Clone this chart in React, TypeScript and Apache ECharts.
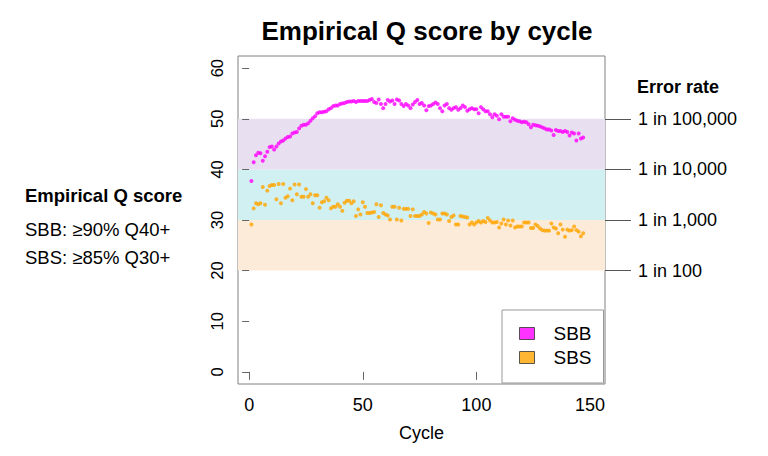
import React, { useEffect, useRef } from "react";
import * as echarts from "echarts";

const sbbValues = [
  37.7, 41.4, 42.8, 43.3, 43.2, 41.7, 42.6, 43.5, 44.4, 44.5,
  43.9, 44.5, 45.1, 45.5, 45.7, 46.1, 46.4, 46.5, 47.1, 47.3,
  47.4, 48.1, 48.6, 48.8, 48.8, 49.1, 49.6, 50.1, 50.5, 51.1,
  51.3, 51.3, 51.4, 51.5, 51.9, 52.1, 52.5, 52.6, 52.6, 52.9,
  53.0, 53.1, 53.3, 53.4, 53.4, 53.5, 53.3, 53.5, 53.5, 53.5,
  53.5, 53.5, 53.7, 53.9, 53.3, 53.1, 53.8, 52.9, 52.1, 52.9,
  53.7, 53.4, 53.6, 52.9, 53.8, 53.6, 52.9, 52.5, 52.9, 52.6,
  52.1, 52.8, 53.3, 53.7, 52.9, 53.1, 52.6, 51.7, 52.5, 52.6,
  52.9, 53.2, 52.9, 52.1, 51.5, 52.6, 52.9, 52.1, 51.8, 52.1,
  52.3, 51.8, 52.1, 52.6, 52.3, 51.6, 51.9, 52.1, 51.9, 51.9,
  51.1, 52.3, 51.9, 51.5, 51.5, 50.9, 50.3, 50.9, 50.6, 49.9,
  50.9, 50.4, 50.4, 50.4, 49.5, 50.1, 49.8, 49.6, 49.5, 49.3,
  49.4, 49.3, 48.9, 48.3, 48.8, 48.7, 48.6, 48.5, 48.3, 48.1,
  47.9, 47.9, 47.7, 46.8, 47.8, 47.6, 47.6, 47.4, 47.6, 47.4,
  46.7, 47.3, 47.1, 45.7, 47.1, 46.1, 46.3,
];

const sbsValues = [
  29.1, 32.3, 33.3, 33.1, 33.3, 36.5, 33.0, 35.8, 36.7, 36.9,
  36.9, 34.1, 37.1, 33.3, 37.1, 34.4, 34.7, 36.2, 33.9, 37.0,
  35.1, 37.0, 34.6, 34.6, 36.1, 34.6, 35.1, 33.3, 34.9, 34.9,
  32.4, 33.5, 33.7, 34.4, 33.9, 32.3, 32.6, 32.6, 33.1, 32.6,
  31.8, 33.4, 33.8, 33.8, 33.3, 33.7, 30.8, 32.1, 31.1, 33.5,
  32.6, 31.4, 31.4, 31.5, 31.6, 33.1, 30.6, 32.9, 31.4, 31.1,
  30.9, 30.1, 32.6, 32.6, 30.1, 32.4, 29.9, 32.2, 32.2, 32.2,
  30.8, 32.1, 30.8, 30.8, 30.8, 31.1, 31.6, 31.3, 29.4, 31.5,
  31.3, 31.1, 30.1, 30.1, 31.3, 31.3, 31.1, 29.8, 30.6, 30.9,
  29.1, 29.1, 30.8, 30.7, 30.6, 30.5, 29.1, 29.5, 29.1, 29.5,
  29.8, 29.5, 29.8, 29.6, 30.4, 29.9, 29.5, 29.5, 29.6, 28.5,
  29.3, 30.1, 29.1, 29.9, 28.9, 29.9, 28.5, 28.7, 28.7, 28.7,
  29.5, 29.5, 29.5, 28.4, 28.4, 29.1, 28.8, 28.3, 28.0, 27.9,
  27.9, 27.9, 29.3, 28.5, 28.3, 27.4, 29.1, 28.1, 26.7, 28.1,
  27.9, 28.0, 28.7, 28.0, 27.7, 26.8, 27.4,
];

const xTicks = [0, 50, 100, 150];
const yTicks = [0, 10, 20, 30, 40, 50, 60];
const errorTicks = [20, 30, 40, 50];
const errorLabels = ["1 in 100", "1 in 1,000", "1 in 10,000", "1 in 100,000"];
const bands = [
  { from: 20, to: 30, color: "#FDEBDA" },
  { from: 30, to: 40, color: "#D0F0F2" },
  { from: 40, to: 50, color: "#E8E0F0" },
];
const annotationLines = ["SBB: \u226590% Q40+", "SBS: \u226585% Q30+"];

const FONT = "'Liberation Sans', Arial, Helvetica, sans-serif";

export default function App() {
  const ref = useRef<HTMLDivElement>(null);

  useEffect(() => {
    if (!ref.current) return;
    const chart = echarts.init(ref.current, undefined, { renderer: "svg" });
    const toPoints = (vals: number[]) => vals.map((v, i) => [i + 1, v]);

    chart.setOption({
      animation: false,
      backgroundColor: "#ffffff",
      textStyle: { fontFamily: FONT },
      title: {
        text: "Empirical Q score by cycle",
        left: 422,
        top: 13,
        textAlign: "center",
        textStyle: { fontSize: 26, fontWeight: "bold", color: "#000", fontFamily: FONT },
      },
      grid: {
        left: 238,
        right: 163,
        top: 56,
        bottom: 72,
        show: true,
        borderColor: "#808080",
        borderWidth: 1,
        backgroundColor: "transparent",
      },
      legend: {
        orient: "vertical",
        left: 502,
        top: 310,
        padding: [14, 12, 16, 17],
        itemGap: 5,
        itemWidth: 15,
        itemHeight: 12,
        icon: "rect",
        borderColor: "#999",
        borderWidth: 1,
        backgroundColor: "#fff",
        itemStyle: { borderColor: "#333", borderWidth: 1 },
        textStyle: { fontSize: 19, color: "#000", fontFamily: FONT, padding: [0, 0, 0, 14] },
        data: ["SBB", "SBS"],
      },
      xAxis: {
        type: "value",
        min: -4.9,
        max: 156.6,
        name: "Cycle",
        nameLocation: "middle",
        nameGap: 40,
        nameTextStyle: { fontSize: 18, color: "#000", fontFamily: FONT },
        axisLine: { show: false },
        splitLine: { show: false },
        axisTick: { show: true, length: 8, customValues: xTicks, lineStyle: { color: "#666" } },
        axisLabel: { show: true, customValues: xTicks, fontSize: 18, color: "#000", margin: 12, fontFamily: FONT },
      },
      yAxis: [
        {
          type: "value",
          min: -2.4,
          max: 62.4,
          position: "left",
          axisLine: { show: false },
          splitLine: { show: false },
          axisTick: { show: true, length: 7, customValues: yTicks, lineStyle: { color: "#666" } },
          axisLabel: {
            show: true,
            customValues: yTicks,
            rotate: 90,
            fontSize: 16.5,
            color: "#000",
            margin: 13,
            fontFamily: FONT,
          },
        },
        {
          type: "value",
          min: -2.4,
          max: 62.4,
          position: "right",
          axisLine: { show: false },
          splitLine: { show: false },
          axisTick: { show: true, length: 26, customValues: errorTicks, lineStyle: { color: "#555" } },
          axisLabel: {
            show: true,
            customValues: errorTicks,
            fontSize: 18,
            color: "#000",
            margin: 33,
            fontFamily: FONT,
            formatter: (v: number) => {
              const i = errorTicks.indexOf(Math.round(v));
              return i >= 0 ? errorLabels[i] : "";
            },
          },
        },
      ],
      series: [
        {
          type: "line",
          name: "bands",
          data: [],
          z: 0,
          silent: true,
          markArea: {
            silent: true,
            z: 0,
            data: bands.map((b) => [
              { yAxis: b.from, itemStyle: { color: b.color } },
              { yAxis: b.to },
            ]),
          },
        },
        {
          type: "scatter",
          name: "SBB",
          data: toPoints(sbbValues),
          symbol: "circle",
          symbolSize: 4,
          itemStyle: { color: "#FF00FF" },
          z: 3,
        },
        {
          type: "scatter",
          name: "SBS",
          data: toPoints(sbsValues),
          symbol: "circle",
          symbolSize: 4,
          itemStyle: { color: "#FFA500" },
          z: 3,
        },
      ],
      graphic: [
        {
          type: "text",
          x: 25,
          y: 195,
          style: {
            text: "Empirical Q score",
            fontSize: 18.5,
            fontWeight: "bold",
            fill: "#000",
            fontFamily: FONT,
            verticalAlign: "middle",
          },
        },
        ...annotationLines.map((t, i) => ({
          type: "text",
          x: 25,
          y: 229.5 + i * 28,
          style: { text: t, fontSize: 18.5, fill: "#000", fontFamily: FONT, verticalAlign: "middle" },
        })),
        {
          type: "text",
          x: 637,
          y: 87,
          style: {
            text: "Error rate",
            fontSize: 18,
            fontWeight: "bold",
            fill: "#000",
            fontFamily: FONT,
            verticalAlign: "middle",
          },
        },
      ],
    });

    return () => chart.dispose();
  }, []);

  return (
    <div
      ref={ref}
      style={{ position: "fixed", left: 0, top: 0, width: 768, height: 456 }}
    />
  );
}
